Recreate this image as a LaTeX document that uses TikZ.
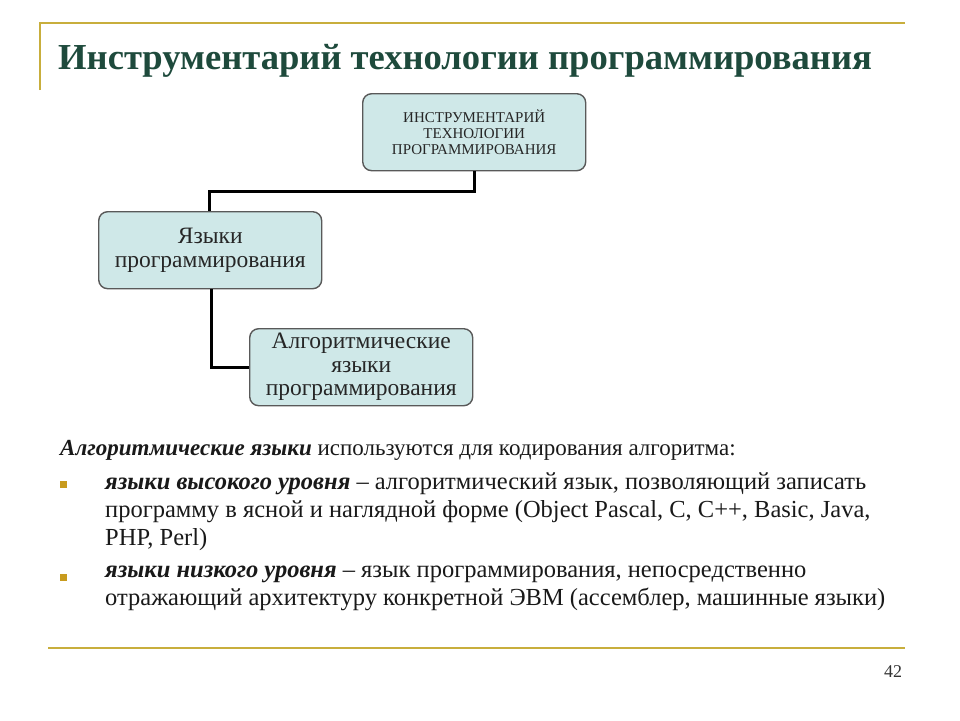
\documentclass[tikz,border=0pt]{standalone}
\usepackage{fontspec}
\setmainfont{Liberation Serif}
\definecolor{gold}{HTML}{C8AE3C}
\definecolor{ttl}{HTML}{1E4A3C}
\definecolor{boxf}{HTML}{CFE8E8}
\definecolor{bul}{HTML}{C89B1E}
\tikzset{box/.style={draw=black!65,line width=1.4pt,rounded corners=9pt,fill=boxf,minimum width=223pt,minimum height=77pt,align=center,anchor=north west,text=black!85},
conn/.style={line width=2.6pt,black},
rule/.style={gold,line width=1.3pt},
txt/.style={anchor=north west,inner sep=0pt,align=left,font=\fontsize{24.5}{28}\selectfont,text=black!90}}
\begin{document}
\begin{tikzpicture}[x=1pt,y=-1pt]
\useasboundingbox (0,0) rectangle (960,720);
\coordinate (t1) at (40,23); \coordinate (t2) at (905,23); \coordinate (t3) at (40,90);
\draw[rule] (t3) -- (t1) -- (t2);
\coordinate (b1) at (48,648); \coordinate (b2) at (905,648);
\draw[rule] (b1) -- (b2);
\node[anchor=west,text=ttl,font=\fontsize{36.6}{38}\selectfont\bfseries,inner sep=0pt] (title) at (58,61) {Инструментарий технологии программирования};
\node[box,font=\fontsize{15}{16}\selectfont] (top) at (362,93) {ИНСТРУМЕНТАРИЙ\\ТЕХНОЛОГИИ\\ПРОГРАММИРОВАНИЯ};
\node[box,font=\fontsize{23.5}{24}\selectfont] (lang) at (98,211) {Языки\\программирования};
\node[box,font=\fontsize{23.5}{23.5}\selectfont] (alg) at (249,328) {Алгоритмические\\языки\\программирования};
\draw[conn] (top.south east) ++(-112,0) coordinate (ts) -- ++(0,20) -| ([xshift=-1pt]lang.north);
\draw[conn] ([xshift=1pt]lang.south) |- (alg.west);
\node[txt,font=\fontsize{23}{28}\selectfont] (p0) at (60,440) {\textbf{\textit{Алгоритмические языки}} используются для кодирования алгоритма:};
\node[fill=bul,minimum size=7pt,inner sep=0pt] (s1) at (63,484) {};
\node[txt] (p1) at (105,473) {\textbf{\textit{языки высокого уровня}} – алгоритмический язык, позволяющий записать\\программу в ясной и наглядной форме (Object Pascal, C, C++, Basic, Java,\\PHP, Perl)};
\node[fill=bul,minimum size=7pt,inner sep=0pt] (s2) at (63,577) {};
\node[txt] (p2) at (105,566) {\textbf{\textit{языки низкого уровня}} – язык программирования, непосредственно\\отражающий архитектуру конкретной ЭВМ (ассемблер, машинные языки)};
\node[font=\fontsize{18}{20}\selectfont,text=black!80] (num) at (893,672) {42};
\end{tikzpicture}
\end{document}
